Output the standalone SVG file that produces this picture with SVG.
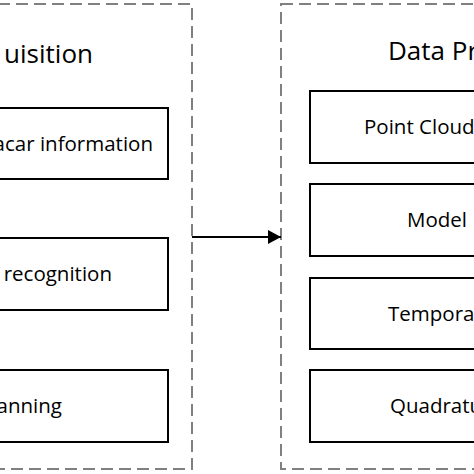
<svg xmlns="http://www.w3.org/2000/svg" width="474" height="474" viewBox="0 0 474 474">
<defs>
<style>
.group{fill:none;stroke:#808080;stroke-width:2;stroke-dasharray:12 6}
.box{fill:#ffffff;stroke:#000000;stroke-width:2}
.t{font-family:"Open Sans","Noto Sans",sans-serif;font-size:20.5px;fill:#000000}
.title{font-family:"Open Sans","Noto Sans",sans-serif;font-size:26px;fill:#000000}
.conn{stroke:#000000;stroke-width:2.2;fill:none}
</style>
<marker id="arrow" markerWidth="14" markerHeight="14" refX="13" refY="7" orient="auto" markerUnits="userSpaceOnUse">
<path d="M0,0 L13,7 L0,14 Z" fill="#000000"/>
</marker>
</defs>
<rect width="474" height="474" fill="#ffffff"/>
<g id="group-acquisition">
<rect class="group" x="-20" y="4" width="212" height="465"/>
<text class="title" x="93" y="63" text-anchor="end">uisition</text>
</g>
<g id="group-processing">
<rect class="group" x="281" y="4" width="220" height="465"/>
<text class="title" x="388" y="60">Data Pr</text>
</g>
<g id="node-car-info">
<rect class="box" x="-20" y="108" width="188" height="71"/>
<text class="t" x="153" y="150.5" text-anchor="end">acar information</text>
</g>
<g id="node-recognition">
<rect class="box" x="-20" y="238" width="188" height="72"/>
<text class="t" x="112" y="281" text-anchor="end">recognition</text>
</g>
<g id="node-scanning">
<rect class="box" x="-20" y="370" width="188" height="72"/>
<text class="t" x="62" y="413" text-anchor="end">anning</text>
</g>
<g id="node-point-cloud">
<rect class="box" x="310" y="91" width="200" height="72"/>
<text class="t" x="364" y="134">Point Cloud</text>
</g>
<g id="node-model">
<rect class="box" x="310" y="184" width="200" height="72"/>
<text class="t" x="407" y="227">Model</text>
</g>
<g id="node-temporal">
<rect class="box" x="310" y="278" width="200" height="71"/>
<text class="t" x="388" y="320.5">Tempora</text>
</g>
<g id="node-quadrature">
<rect class="box" x="310" y="370" width="200" height="72"/>
<text class="t" x="390" y="413">Quadratu</text>
</g>
<g id="connectors">
<line class="conn" x1="192" y1="237" x2="281" y2="237" marker-end="url(#arrow)"/>
</g>
</svg>
